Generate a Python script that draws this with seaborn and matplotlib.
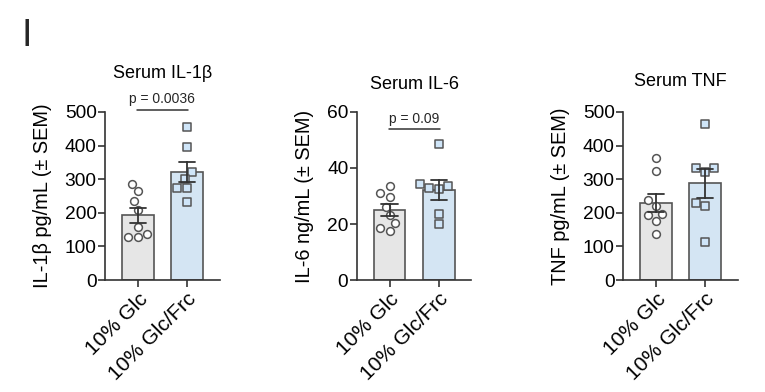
import numpy as np
import pandas as pd
import matplotlib
matplotlib.use("Agg")
import matplotlib.pyplot as plt
import seaborn as sns

# ---- data ----
groups = ["10% Glc", "10% Glc/Frc"]
il1b_glc = [286, 264, 234, 209, 157, 137, 127, 127]
il1b_frc = [456, 395, 320, 301, 274, 274, 232]
il6_glc = [33.7, 29.8, 31.0, 26.2, 23.1, 20.3, 17.6, 18.5]
il6_frc = [48.5, 33.0, 34.3, 32.4, 33.4, 23.5, 19.9]
tnf_glc = [362, 324, 237, 219, 192, 197, 175, 137]
tnf_frc = [465, 334, 322, 332, 229, 219, 112]
titles = ["Serum IL-1β", "Serum IL-6", "Serum TNF"]
ylabels = ["IL-1β pg/mL (± SEM)", "IL-6 ng/mL (± SEM)", "TNF pg/mL (± SEM)"]
yticks = [[0, 100, 200, 300, 400, 500], [0, 20, 40, 60], [0, 100, 200, 300, 400, 500]]
pvals = ["p = 0.0036", "p = 0.09", None]
pline_y = [507, 53.9, None]

panels = [(il1b_glc, il1b_frc), (il6_glc, il6_frc), (tnf_glc, tnf_frc)]

sns.set_theme(style="ticks")
plt.rcParams["font.family"] = ["Liberation Sans", "DejaVu Sans"]

bar_colors = ["#e6e6e6", "#cfe5f8"]
marker_faces = ["white", "#cfe5f8"]
marker_shapes = ["o", "s"]
edge = "#555555"
dark = "#333333"

fig = plt.figure(figsize=(7.65, 3.92), dpi=100)

lefts = [105 / 765, 356.7 / 765, 623 / 765]
title_y = [1.232, 1.161, 1.179]

for i, (g1, g2) in enumerate(panels):
    ax = fig.add_axes([lefts[i], 0.2857, 0.150, 0.4286])
    df = pd.DataFrame({
        "group": [groups[0]] * len(g1) + [groups[1]] * len(g2),
        "value": list(g1) + list(g2),
    })
    sns.barplot(data=df, x="group", y="value", order=groups, hue="group",
                hue_order=groups, palette=bar_colors, legend=False,
                errorbar="se", capsize=0.33, width=0.65,
                err_kws={"linewidth": 1.3, "color": dark},
                edgecolor=edge, linewidth=1.2, ax=ax)
    for k, g in enumerate(groups):
        sns.swarmplot(data=df[df["group"] == g], x="group", y="value",
                      order=groups, marker=marker_shapes[k], size=5.6,
                      color=marker_faces[k], edgecolor=edge, linewidth=1.1,
                      ax=ax)
    for p in ax.patches:
        p.set_zorder(1)
    for c in ax.collections:
        c.set_zorder(3)
    for ln in ax.lines:
        ln.set_zorder(4)

    ax.set_xlim(-0.67, 1.67)
    ax.set_ylim(yticks[i][0], yticks[i][-1])
    ax.set_yticks(yticks[i])
    ax.set_xlabel("")
    ax.set_ylabel(ylabels[i], fontsize=14.4, color="black", labelpad=9)
    ax.tick_params(axis="y", labelsize=13.8, length=5, width=1.2, color=dark,
                   pad=1, labelcolor="black")
    ax.tick_params(axis="x", labelsize=15, length=5, width=1.2, color=dark,
                   pad=2, labelcolor="black")
    ax.set_xticks(range(len(groups)))
    ax.set_xticklabels(groups, rotation=45, ha="right", rotation_mode="anchor")
    for s in ["left", "bottom"]:
        ax.spines[s].set_color(dark)
        ax.spines[s].set_linewidth(1.2)
    sns.despine(ax=ax)
    ax.text(0.5, title_y[i], titles[i], transform=ax.transAxes, fontsize=13,
            ha="center", va="center", color="black")

    if pvals[i] is not None:
        ax.plot([-0.02, 1.02], [pline_y[i], pline_y[i]], color=dark, lw=1.1,
                clip_on=False)
        ax.annotate(pvals[i], xy=(0.5, pline_y[i]), xytext=(0, 2.5),
                    textcoords="offset points", ha="center", va="bottom",
                    fontsize=10, annotation_clip=False)

fig.text(27 / 765, 1 - 36 / 392, "I", fontsize=27, ha="center", va="center")

fig.savefig("out.png", dpi=100)
